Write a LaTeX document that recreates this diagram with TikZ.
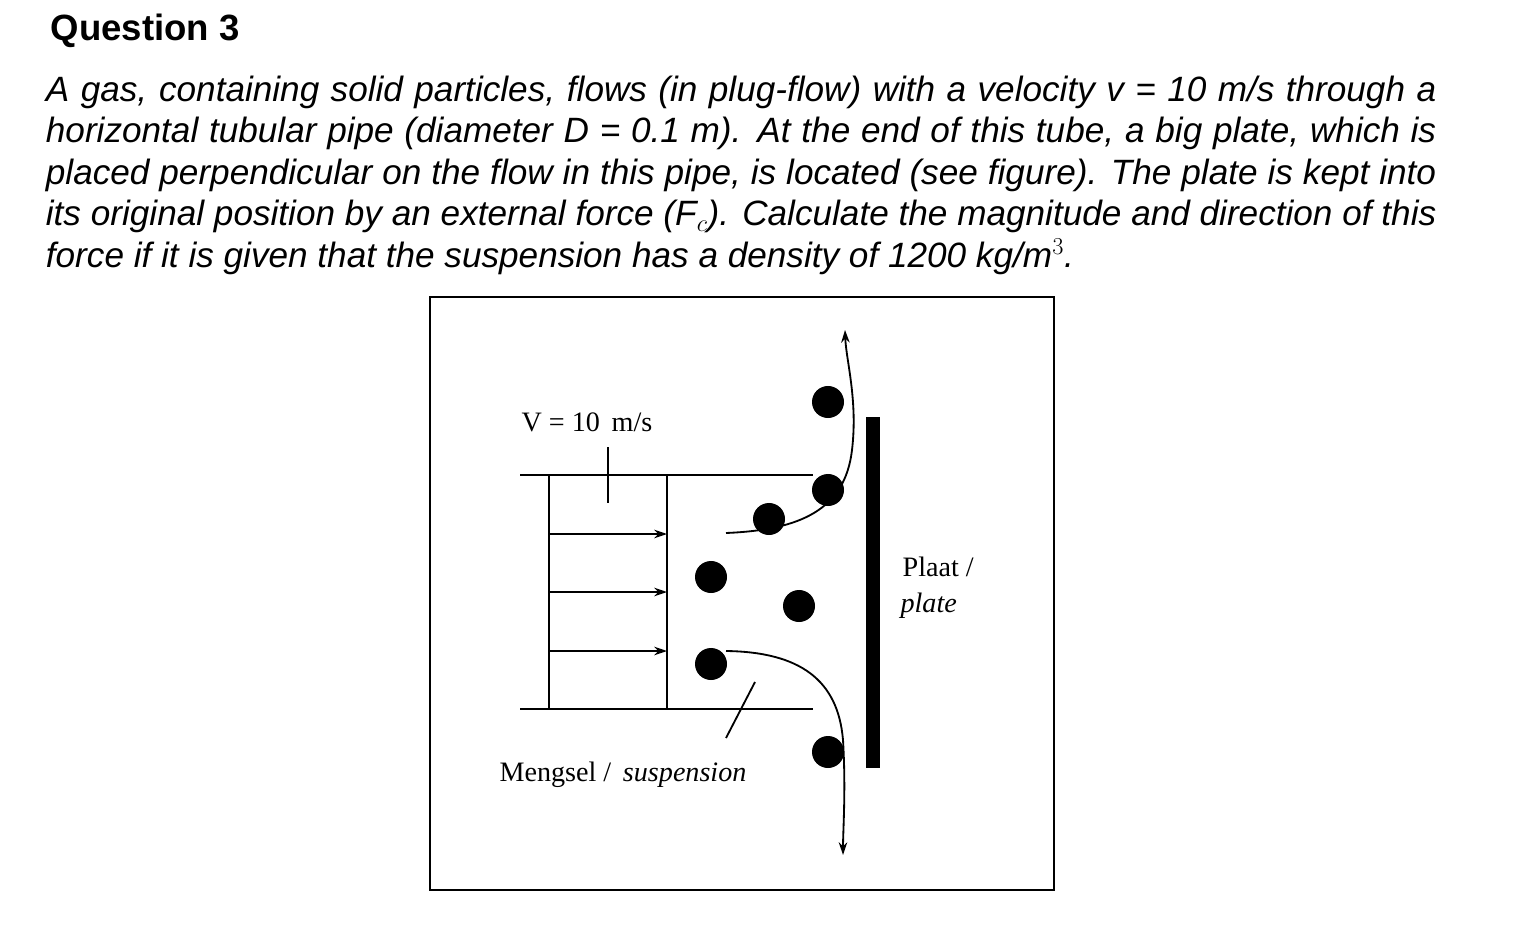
\documentclass[tikz,border=0pt]{standalone}
\usepackage{fontspec}
\setmainfont{Liberation Serif}
\newfontfamily\arialfont{Liberation Sans}
\usetikzlibrary{arrows.meta,positioning}

\begin{document}
\begin{tikzpicture}[x=0.025cm,y=-0.025cm,
>={Stealth[length=9pt,width=6pt]},line width=1.3pt,
font=\fontsize{20}{24}\selectfont]

\tikzstyle{every particle}=[circle,fill=black,inner sep=0pt,minimum size=0.8cm]
\tikzstyle{every wall}=[line width=1.6pt]

\useasboundingbox (0,0) rectangle (1516,937);

% title and question text
\node[anchor=west,font=\arialfont\bfseries\fontsize{26}{30}\selectfont]
(title) at (45,31)
{Question 3};

\node[anchor=north west,text width=34.75cm,inner sep=0pt,
font=\arialfont\itshape\fontsize{25}{29.5}\selectfont,align=justify]
(question) at (45,75)
{A gas, containing solid particles, flows (in plug-flow) with a velocity v = 10 m/s through a horizontal tubular pipe (diameter D = 0.1 m). At the end of this tube, a big plate, which is placed perpendicular on the flow in this pipe, is located (see figure). The plate is kept into its original position by an external force (F$_c$). Calculate the magnitude and direction of this force if it is given that the suspension has a density of 1200 kg/m$^3$.};

% frame
\draw[line width=2pt] (430,297) rectangle (1054,890);

% pipe
\coordinate (tl) at (520,475);
\coordinate (tr) at (813,475);
\coordinate (bl) at (520,709);
\coordinate (br) at (813,709);
\draw[every wall] (tl) -- (tr);
\draw[every wall] (bl) -- (br);
\draw (549,475) -- (549,709);
\draw (667,475) -- (667,709);

% velocity profile
\foreach \y in {534,592,651}
  \draw[->] (549,\y) -- (667,\y);

% plate
\node[fill=black,minimum width=0.35cm,minimum height=8.75cm,inner sep=0pt]
(plate) at (872.5,592.5) {};

% particles
\foreach \n/\x/\y in {1/828/402,2/828/490,3/769/519,4/711/577,5/799/606,6/711/664,7/828/752}
  \node[every particle] (p\n) at (\x,\y) {};

% streamlines
\draw[->] (726,533) .. controls (800,530) and (845,510) .. (852,450)
  .. controls (858,400) and (846,360) .. (845,330);
\draw[->] (726,651) .. controls (800,652) and (838,680) .. (843,740)
  .. controls (846,790) and (843,830) .. (843,855);

% labels
\node (vel) at (587,422) {V = 10\, m/s};
\draw (608,447) -- (608,503);
\node[anchor=west] (plaat) at (897,567) {Plaat /};
\node[anchor=west] (plate-en) at (895,606) {\itshape plate};
\node (mix) at (623,775) {Mengsel / \,\itshape suspension};
\draw (726,738) -- (755,682);

\end{tikzpicture}
\end{document}
